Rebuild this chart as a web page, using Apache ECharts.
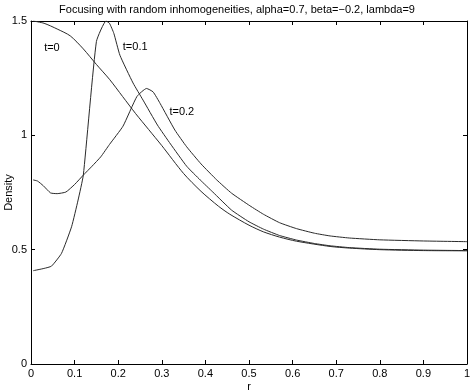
<!DOCTYPE html>
<html><head><meta charset="utf-8">
<script src="https://cdn.jsdelivr.net/npm/echarts@6/dist/echarts.min.js"></script>
<style>html,body{margin:0;padding:0;background:#fff}#c{width:474px;height:391px}</style>
</head><body><div id="c"></div>
<script>
const titleText = 'Focusing with random inhomogeneities, alpha=0.7, beta=\u22120.2, lambda=9';
const xTicks = [0,0.1,0.2,0.3,0.4,0.5,0.6,0.7,0.8,0.9,1];
const yTicks = [0,0.5,1,1.5];

const r_t0 = [0.005,0.03,0.06,0.09,0.12,0.15,0.18,0.21,0.24,0.27,0.3,0.35,0.39,0.43,0.456,0.5,0.533,0.57,0.609,0.686,0.73,0.8,0.9,1.0];
const d_t0 = [1.5,1.49,1.465,1.435,1.378,1.31,1.245,1.17,1.095,1.025,0.955,0.833,0.755,0.69,0.655,0.607,0.578,0.555,0.537,0.514,0.507,0.5,0.496,0.495];

const r_t01 = [0.005,0.03,0.047,0.07,0.093,0.108,0.12,0.15,0.172,0.18,0.19,0.204,0.234,0.257,0.29,0.32,0.357,0.388,0.417,0.46,0.5,0.533,0.57,0.609,0.65,0.686,0.73,0.8,0.9,1.0];
const d_t01 = [0.408,0.418,0.428,0.484,0.6,0.717,0.826,1.41,1.5,1.49,1.446,1.35,1.229,1.154,1.045,0.962,0.865,0.805,0.752,0.673,0.622,0.59,0.562,0.542,0.527,0.517,0.509,0.502,0.498,0.496];

const r_t02 = [0.005,0.015,0.028,0.045,0.06,0.08,0.1,0.12,0.14,0.16,0.18,0.211,0.243,0.265,0.28,0.296,0.33,0.357,0.39,0.426,0.46,0.502,0.533,0.57,0.609,0.65,0.686,0.73,0.8,0.9,1.0];
const d_t02 = [0.805,0.8,0.78,0.748,0.745,0.752,0.785,0.826,0.865,0.906,0.96,1.04,1.17,1.205,1.19,1.14,1.023,0.95,0.875,0.805,0.747,0.692,0.655,0.618,0.592,0.572,0.56,0.551,0.543,0.538,0.535];

const labelTexts = ['t=0','t=0.1','t=0.2'];
const labelR = [0.048,0.239,0.346];
const labelD = [1.383,1.386,1.10];

const FONT = 'Liberation Sans';
const LC = '#2a2a2a';
function pairs(rs, ds){ return rs.map((r,i)=>[r,ds[i]]); }

const chart = echarts.init(document.getElementById('c'), null, {renderer:'canvas'});
const axisCommon = {
  axisLine:{show:true, onZero:false, lineStyle:{color:'#000', width:1}},
  axisTick:{show:true, inside:true, length:4, lineStyle:{color:'#000'}},
  splitLine:{show:false},
  axisLabel:{color:'#000', fontFamily:FONT, fontSize:11}
};
chart.setOption({
  animation:false,
  backgroundColor:'#fff',
  title:{text:titleText, left:'center', top:4, padding:0, textStyle:{fontFamily:FONT, fontSize:11, fontWeight:'normal', color:'#000'}},
  grid:{left:31, right:7, top:21, bottom:27, containLabel:false, outerBoundsMode:'none'},
  xAxis:[
    Object.assign({}, axisCommon, {type:'value', min:0, max:1, interval:0.1, position:'bottom',
      name:'r', nameLocation:'middle', nameGap:17, nameMoveOverlap:false, nameTextStyle:{fontFamily:FONT, fontSize:11, color:'#000'},
      axisLabel:Object.assign({}, axisCommon.axisLabel, {margin:4, formatter:v=>String(+v.toFixed(1))})}),
    Object.assign({}, axisCommon, {type:'value', min:0, max:1, interval:0.1, position:'top', axisLabel:{show:false}})
  ],
  yAxis:[
    Object.assign({}, axisCommon, {type:'value', min:0, max:1.5, interval:0.5, position:'left',
      name:'Density', nameLocation:'middle', nameGap:17, nameRotate:90, nameMoveOverlap:false, nameTextStyle:{fontFamily:FONT, fontSize:11, color:'#000'},
      axisLabel:Object.assign({}, axisCommon.axisLabel, {margin:4, formatter:v=>String(+v.toFixed(1))})}),
    Object.assign({}, axisCommon, {type:'value', min:0, max:1.5, interval:0.5, position:'right', axisLabel:{show:false}})
  ],
  series:[
    {type:'line', data:pairs(r_t0,d_t0), showSymbol:false, smooth:0.25, lineStyle:{color:LC, width:1}},
    {type:'line', data:pairs(r_t01,d_t01), showSymbol:false, smooth:0.15, lineStyle:{color:LC, width:1}},
    {type:'line', data:pairs(r_t02,d_t02), showSymbol:false, smooth:0.15, lineStyle:{color:LC, width:1}}
  ]
});
const g = labelTexts.map((t,i)=>{
  const p = chart.convertToPixel({xAxisIndex:0, yAxisIndex:0}, [labelR[i], labelD[i]]);
  return {type:'text', x:p[0], y:p[1], style:{text:t, fontFamily:FONT, fontSize:11, fill:'#000', align:'center', verticalAlign:'middle'}};
});
chart.setOption({graphic:g});
</script></body></html>
